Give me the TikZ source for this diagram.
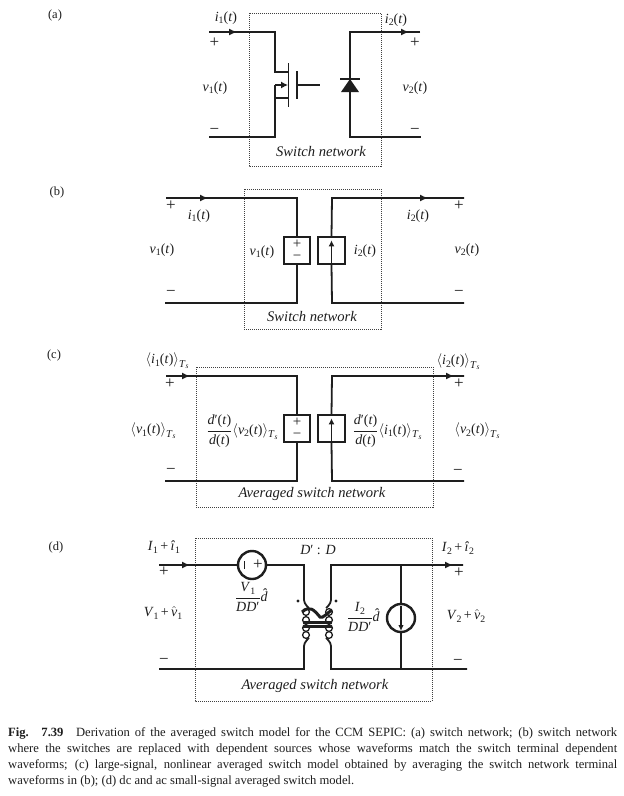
\documentclass[tikz,border=0pt]{standalone}
\usepackage[no-math]{fontspec}
\setmainfont{Liberation Serif}
\usetikzlibrary{arrows.meta}
\definecolor{ink}{HTML}{1E1E1E}
\tikzset{
  wire/.style={draw=ink,line width=1.8pt,line cap=butt,line join=miter},
  arrowwire/.style={wire,-{Latex[length=8pt,width=7pt]}},
  thinwire/.style={draw=ink,line width=1.2pt},
  netbox/.style={draw=ink!85,line width=0.9pt,dash pattern=on 1pt off 1pt},
  lbl/.style={font=\fontsize{14}{15}\selectfont,text=ink,inner sep=0pt},
  sign/.style={font=\fontsize{17}{18}\selectfont,text=ink,inner sep=0pt},
  tag/.style={font=\fontsize{12.5}{14}\selectfont,text=ink,inner sep=0pt},
  netlbl/.style={font=\itshape\fontsize{14.6}{16}\selectfont,text=ink,inner sep=0pt},
  srcbox/.style={draw=ink,line width=1.8pt,minimum width=26.5pt,minimum height=26.5pt,inner sep=0pt,fill=white},
  vsrc/.style={srcbox,align=center,text=ink,font=\fontsize{15}{12.5}\selectfont},
  srccirc/.style={circle,draw=ink,line width=2.4pt,minimum size=28pt,inner sep=0pt,fill=white},
}
\newcommand{\sbs}[1]{\raisebox{-0.35ex}{\fontsize{9.8}{10}\selectfont #1}}
\newcommand{\cur}[1]{\textit{i}\sbs{#1}(\textit{t})}
\newcommand{\vol}[1]{\textit{v}\sbs{#1}(\textit{t})}
\newcommand{\hv}{\ensuremath{\hat{\mbox{\textit{v}}}}}
\newcommand{\Ts}{\raisebox{-0.55ex}{\fontsize{10.5}{10}\selectfont\textit{T}\raisebox{-0.3ex}{\fontsize{7.5}{8}\selectfont\textit{s}}}}
\newcommand{\avg}[1]{$\langle$#1$\rangle$\Ts}
\newcommand{\ratio}{\ensuremath{\displaystyle\frac{\mbox{\textit{d}′(\textit{t})}}{\mbox{\textit{d}(\textit{t})}}}}
\newcommand{\gain}[1]{\ensuremath{\displaystyle\frac{\mbox{#1}}{\mbox{\textit{DD}′}}}\textit{\^d}}
\begin{document}
\begin{tikzpicture}[x=1pt,y=-1pt]
\useasboundingbox (0,0) rectangle (624,796);
\fill[white] (0,0) rectangle (624,796);

% ---------- (a)
\node[tag] (tagA) at (55,15) {(a)};
\draw[netbox] (249,13) rectangle (381,166);
\coordinate (aTL) at (209,32); \coordinate (aTA) at (237,32); \coordinate (aTC) at (275,32);
\coordinate (aD) at (275,72); \coordinate (aDc) at (288,72);
\coordinate (aS) at (275,98); \coordinate (aSc) at (288,98);
\coordinate (aB) at (275,137); \coordinate (aBL) at (209,137);
\coordinate (aM) at (275,85); \coordinate (aMc) at (288,85);
\coordinate (aCh1) at (288.5,63); \coordinate (aCh2) at (288.5,107);
\coordinate (aG1) at (297,71); \coordinate (aG2) at (297,99); \coordinate (aGm) at (297,85); \coordinate (aGe) at (320,85);
\coordinate (aR) at (350,32); \coordinate (aRE) at (420,32); \coordinate (aRA) at (409,32);
\coordinate (aRb) at (350,137); \coordinate (aRBE) at (421,137);
\coordinate (aDb1) at (340,79); \coordinate (aDb2) at (360,79); \coordinate (aDa) at (350,79);
\coordinate (aDt1) at (341,92); \coordinate (aDt2) at (359,92);
\draw[wire] (aTL) -- (aTC) -- (aD) -- (aDc);
\draw[arrowwire] (aTL) -- (aTA);
\draw[wire] (aBL) -- (aB) -- (aS) -- (aSc);
\draw[wire] (aS) -- (aM);
\draw[thinwire,-{Latex[length=7pt,width=7pt]}] (aM) -- (aMc);
\draw[wire] (aCh1) -- (aCh2);
\draw[wire,line width=2.4pt] (aG1) -- (aG2);
\draw[wire] (aGm) -- (aGe);
\draw[wire] (aRE) -- (aR) -- (aRb) -- (aRBE);
\draw[arrowwire] (aR) -- (aRA);
\draw[wire,line width=2.4pt] (aDb1) -- (aDb2);
\fill[ink] (aDa) -- (aDt2) -- (aDt1) -- cycle;
\node[lbl] (ai1) at (226,18) {\cur{1}};
\node[sign] (apl) at (214.5,43) {+};
\node[lbl] (av1) at (215,88) {\vol{1}};
\node[sign] (ami) at (214.5,131) {−};
\node[lbl] (ai2) at (396,20) {\cur{2}};
\node[sign] (apr) at (415,43) {+};
\node[lbl] (av2) at (415,88) {\vol{2}};
\node[sign] (amr) at (415,131) {−};
\node[netlbl] (aNet) at (321,152) {Switch network};

% ---------- (b)
\node[tag] (tagB) at (57,192) {(b)};
\draw[netbox] (244,189) rectangle (381,329);
\node[vsrc] (bV) at (297,250.5) {+\\−};
\node[srcbox] (bI) at (331.5,250.5) {};
\coordinate (bTL) at (166,198); \coordinate (bTA) at (208,198); \coordinate (bTC) at (297,198);
\coordinate (bBL) at (165,303); \coordinate (bBC) at (297,303);
\coordinate (bTR) at (332,198); \coordinate (bTE) at (464,198); \coordinate (bRA) at (428,198);
\coordinate (bBR) at (332,303); \coordinate (bBE) at (464,303);
\draw[wire] (bTL) -- (bTC) -- (bV.north);
\draw[arrowwire] (bTL) -- (bTA);
\draw[wire] (bBL) -- (bBC) -- (bV.south);
\draw[wire] (bI.north) -- (bTR) -- (bTE);
\draw[arrowwire] (bTR) -- (bRA);
\draw[wire] (bI.south) -- (bBR) -- (bBE);
\draw[thinwire,-{Latex[length=6pt,width=6pt]}] (bI.south) -- ([yshift=-4pt]bI.north);
\node[sign] (bpl) at (171,206) {+};
\node[lbl] (bi1) at (199,216) {\cur{1}};
\node[lbl] (bv1) at (162,250) {\vol{1}};
\node[sign] (bmi) at (171,293) {−};
\node[lbl] (bv1i) at (262,252) {\vol{1}};
\node[lbl] (bi2i) at (365,251) {\cur{2}};
\node[lbl] (bi2) at (418,216) {\cur{2}};
\node[sign] (bpr) at (459,206) {+};
\node[lbl] (bv2) at (467,250) {\vol{2}};
\node[sign] (bmr) at (459,293) {−};
\node[netlbl] (bNet) at (312,316) {Switch network};

% ---------- (c)
\node[tag] (tagC) at (54,355) {(c)};
\draw[netbox] (196,367) rectangle (433,507);
\node[vsrc] (cV) at (297,428.5) {+\\−};
\node[srcbox] (cI) at (331.5,428.5) {};
\coordinate (cTL) at (166,376); \coordinate (cTA) at (190,376); \coordinate (cTC) at (297,376);
\coordinate (cBL) at (165,481); \coordinate (cBC) at (297,481);
\coordinate (cTR) at (332,376); \coordinate (cTE) at (464,376); \coordinate (cRA) at (454,376);
\coordinate (cBR) at (332,481); \coordinate (cBE) at (464,481);
\draw[wire] (cTL) -- (cTC) -- (cV.north);
\draw[arrowwire] (cTL) -- (cTA);
\draw[wire] (cBL) -- (cBC) -- (cV.south);
\draw[wire] (cI.north) -- (cTR) -- (cTE);
\draw[arrowwire] (cTR) -- (cRA);
\draw[wire] (cI.south) -- (cBR) -- (cBE);
\draw[thinwire,-{Latex[length=6pt,width=6pt]}] (cI.south) -- ([yshift=-4pt]cI.north);
\node[lbl] (ci1) at (167,361) {\avg{\cur{1}}};
\node[sign] (cpl) at (170,384) {+};
\node[lbl] (cv1) at (153,431) {\avg{\vol{1}}};
\node[sign] (cmi) at (171,471) {−};
\node[lbl] (cfl) at (242,431) {\ratio\avg{\vol{2}}};
\node[lbl] (cfr) at (387,431) {\ratio\avg{\cur{1}}};
\node[lbl] (ci2) at (458,362) {\avg{\cur{2}}};
\node[sign] (cpr) at (459,384) {+};
\node[lbl] (cv2) at (477,431) {\avg{\vol{2}}};
\node[sign] (cmr) at (458,472) {−};
\node[netlbl] (cNet) at (312,494) {Averaged switch network};

% ---------- (d)
\node[tag] (tagD) at (56,547) {(d)};
\draw[netbox] (195,538) rectangle (432,701);
\coordinate (dTL) at (159,565); \coordinate (dTA) at (190,565); \coordinate (dTC) at (304,565);
\coordinate (dBL) at (159,669); \coordinate (dBC) at (304,669);
\coordinate (dTR) at (331,565); \coordinate (dTE) at (463,565); \coordinate (dRA) at (453,565);
\coordinate (dBR) at (331,669); \coordinate (dBE) at (467,669);
\coordinate (dIt) at (401,565); \coordinate (dIb) at (401,669);
\coordinate (dIa1) at (401,606); \coordinate (dIa2) at (401,631);
\coordinate (dL1) at (304,600); \coordinate (dL2) at (309,608); \coordinate (dL3) at (309,638); \coordinate (dL4) at (304,646);
\coordinate (dR1) at (331,600); \coordinate (dR2) at (326,608); \coordinate (dR3) at (326,638); \coordinate (dR4) at (331,646);
\coordinate (dLh) at (304,604); \coordinate (dLi) at (304,642);
\coordinate (dRh) at (331,604); \coordinate (dRi) at (331,642);
\node[srccirc] (dV) at (252,565) {};
\node[srccirc] (dI) at (401,618) {};
\draw[wire] (dTL) -- (dV.west);
\draw[arrowwire] (dTL) -- (dTA);
\draw[wire] (dV.east) -- (dTC) -- (dL1) .. controls (dLh) and (dL2) .. (dL2);
\draw[wire] (dL3) .. controls (dL3) and (dLi) .. (dL4) -- (dBC) -- (dBL);
\draw[wire] (dTE) -- (dTR) -- (dR1) .. controls (dRh) and (dR2) .. (dR2);
\draw[wire] (dR3) .. controls (dR3) and (dRi) .. (dR4) -- (dBR) -- (dBE);
\draw[arrowwire] (dTR) -- (dRA);
\draw[wire] (dIt) -- (dI.north);
\draw[wire] (dI.south) -- (dIb);
\draw[thinwire,-{Latex[length=6pt,width=5.5pt]}] (dIa1) -- (dIa2);
\draw[thinwire] (244.5,561) -- (244.5,569);
\node[sign] (dVp) at (258,565) {+};
% transformer coils and core
\foreach \cy in {612,620,628,635}{
  \draw[ink,line width=1.3pt] (306,\cy) circle (3.4pt);
  \draw[ink,line width=1.3pt] (329,\cy) circle (3.4pt);
}
\draw[ink,line width=2.4pt] (303,622.5) -- (332,622.5);
\draw[ink,line width=2.4pt] (303,626.5) -- (332,626.5);
\draw[ink,line width=3pt] (302,612) .. controls (310,605) and (314,610) .. (320,617) .. controls (323,619) and (328,612) .. (332,610);
\fill[ink] (298,601) circle (1.6pt);
\fill[ink] (336,601) circle (1.6pt);
\node[lbl] (di1) at (164,547) {\textit{I}\sbs{1}\,+\,\textit{î}\sbs{1}};
\node[sign] (dpl) at (164,572) {+};
\node[lbl] (dv1) at (163,613) {\textit{V}\sbs{1}\,+\,\hv\sbs{1}};
\node[sign] (dmi) at (164,661) {−};
\node[lbl] (dfv) at (254,597) {\gain{\textit{V}\sbs{1}}};
\node[lbl] (dn) at (318,550) {\textit{D}′ : \textit{D}};
\node[lbl] (di2) at (458,548) {\textit{I}\sbs{2}\,+\,\textit{î}\sbs{2}};
\node[sign] (dpr) at (459,573) {+};
\node[lbl] (dv2) at (466,616) {\textit{V}\sbs{2}\,+\,\hv\sbs{2}};
\node[sign] (dmr) at (458,662) {−};
\node[lbl] (dfi) at (366,617) {\gain{\textit{I}\sbs{2}}};
\node[netlbl] (dNet) at (315,686) {Averaged switch network};

% ---------- caption
\node[anchor=north west,inner sep=0pt,text width=609pt,text=ink,align=justify,
      font=\fontsize{12.6}{16}\selectfont] (cap) at (8,727) {%
\textbf{Fig.\quad 7.39}\quad Derivation of the averaged switch model for the CCM SEPIC: (a) switch network; (b) switch network\linebreak
where the switches are replaced with dependent sources whose waveforms match the switch terminal dependent\linebreak
waveforms; (c) large-signal, nonlinear averaged switch model obtained by averaging the switch network terminal\linebreak
waveforms in (b); (d) dc and ac small-signal averaged switch model.};
\end{tikzpicture}
\end{document}
